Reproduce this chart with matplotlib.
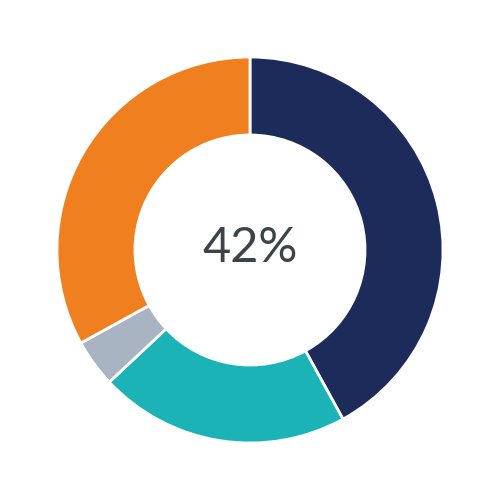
import matplotlib.pyplot as plt

labels = ["Navy", "Teal", "Gray", "Orange"]
values = [42, 21, 4, 33]
colors = ["#1c2b5a", "#1bb3b5", "#a9b4c2", "#f07f1f"]
center_label = "42%"

fig = plt.figure(figsize=(5, 5), dpi=100)
ax = fig.add_axes([0, 0, 1, 1])
ax.pie(values, colors=colors, startangle=90, counterclock=False,
       radius=1.0,
       wedgeprops=dict(width=0.404, edgecolor="white", linewidth=2))
ax.text(0, 0.01, center_label, ha="center", va="center", fontsize=35,
        color="#3d4449", family=["Lato", "DejaVu Sans"], fontweight="normal")
lim = 250 / 193
ax.set_xlim(-lim, lim)
ax.set_ylim(-lim, lim)
ax.set_aspect("equal")
ax.axis("off")
fig.savefig("out.png", dpi=100, facecolor="white")
